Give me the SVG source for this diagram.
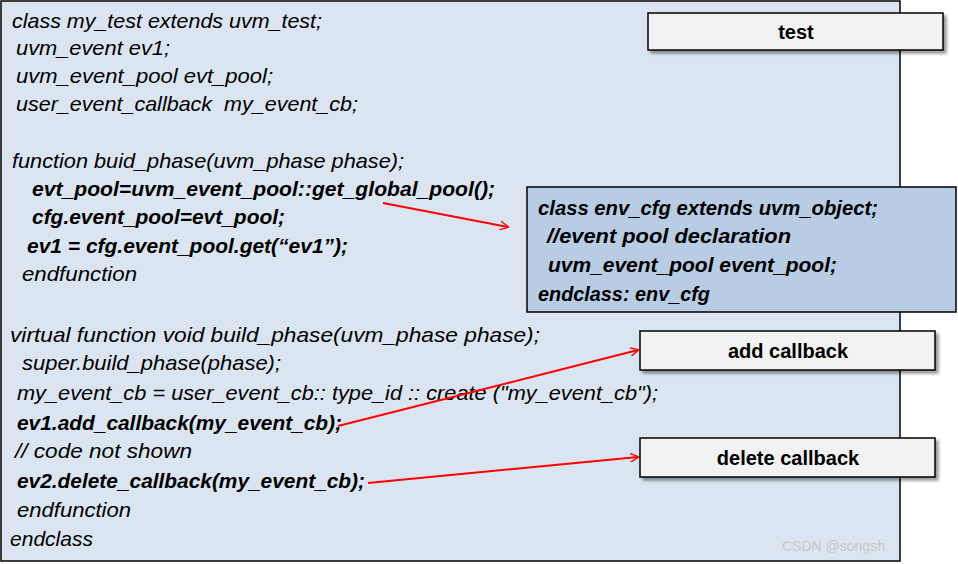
<svg xmlns="http://www.w3.org/2000/svg" width="958" height="564" viewBox="0 0 958 564">
<defs>
<marker id="ah" viewBox="0 0 10 10" refX="9" refY="5" markerWidth="9" markerHeight="9" markerUnits="userSpaceOnUse" orient="auto"><path d="M0,0 L10,5 L0,10" fill="none" stroke="#f00" stroke-width="1.5"/></marker>
<filter id="sh" x="-5%" y="-20%" width="115%" height="160%"><feDropShadow dx="3" dy="3" stdDeviation="1.5" flood-color="#000" flood-opacity="0.4"/></filter>
</defs>
<style>
text{font-family:"Liberation Sans",Arial,sans-serif;font-style:italic;font-size:21px;fill:#000}
.b{font-weight:bold}
.lbl{font-style:normal;font-weight:bold;font-size:20px;text-anchor:middle}
.btn{fill:#f2f2f2;stroke:#000;stroke-width:1.5}
.arr{stroke:#f00;stroke-width:2;fill:none;marker-end:url(#ah)}
</style>
<rect width="958" height="564" fill="#fff"/>
<g id="main">
<rect x="1" y="1" width="899" height="560" fill="#dbe5f1" stroke="#000" stroke-width="1.5"/>
<text x="12" y="28" textLength="310" lengthAdjust="spacingAndGlyphs">class my_test extends uvm_test;</text>
<text x="16" y="55" textLength="154" lengthAdjust="spacingAndGlyphs">uvm_event ev1;</text>
<text x="16" y="83" textLength="257" lengthAdjust="spacingAndGlyphs">uvm_event_pool evt_pool;</text>
<text x="16" y="111" textLength="342" lengthAdjust="spacingAndGlyphs" xml:space="preserve">user_event_callback  my_event_cb;</text>
<text x="12" y="168" textLength="392" lengthAdjust="spacingAndGlyphs">function buid_phase(uvm_phase phase);</text>
<text class="b" x="32" y="196" textLength="463" lengthAdjust="spacingAndGlyphs">evt_pool=uvm_event_pool::get_global_pool();</text>
<text class="b" x="32" y="224" textLength="253" lengthAdjust="spacingAndGlyphs">cfg.event_pool=evt_pool;</text>
<text class="b" x="27" y="253" textLength="321" lengthAdjust="spacingAndGlyphs">ev1 = cfg.event_pool.get(“ev1”);</text>
<text x="22" y="281" textLength="115" lengthAdjust="spacingAndGlyphs">endfunction</text>
<text x="10" y="342" textLength="530" lengthAdjust="spacingAndGlyphs">virtual function void build_phase(uvm_phase phase);</text>
<text x="22" y="370" textLength="259" lengthAdjust="spacingAndGlyphs">super.build_phase(phase);</text>
<text x="17" y="400" textLength="641" lengthAdjust="spacingAndGlyphs">my_event_cb = user_event_cb:: type_id :: create ("my_event_cb");</text>
<text class="b" x="17" y="430" textLength="325" lengthAdjust="spacingAndGlyphs">ev1.add_callback(my_event_cb);</text>
<text x="15" y="458" textLength="177" lengthAdjust="spacingAndGlyphs">// code not shown</text>
<text class="b" x="17" y="488" textLength="348" lengthAdjust="spacingAndGlyphs">ev2.delete_callback(my_event_cb);</text>
<text x="17" y="517" textLength="114" lengthAdjust="spacingAndGlyphs">endfunction</text>
<text x="10" y="546" textLength="83" lengthAdjust="spacingAndGlyphs">endclass</text>
</g>
<g id="test"><rect class="btn" x="648" y="13" width="295" height="37" filter="url(#sh)"/><text class="lbl" x="796" y="39">test</text></g>
<g id="env_cfg">
<rect x="527" y="187" width="429" height="125" fill="#b8cce4" stroke="#000" stroke-width="1.5"/>
<text class="b" x="538" y="215" textLength="340" lengthAdjust="spacingAndGlyphs">class env_cfg extends uvm_object;</text>
<text class="b" x="547" y="243" textLength="244" lengthAdjust="spacingAndGlyphs">//event pool declaration</text>
<text class="b" x="548" y="272" textLength="289" lengthAdjust="spacingAndGlyphs">uvm_event_pool event_pool;</text>
<text class="b" x="538" y="301" textLength="172" lengthAdjust="spacingAndGlyphs">endclass: env_cfg</text>
</g>
<g id="add"><rect class="btn" x="640" y="331" width="295" height="39" filter="url(#sh)"/><text class="lbl" x="788" y="358">add callback</text></g>
<g id="del"><rect class="btn" x="640" y="438" width="295" height="39" filter="url(#sh)"/><text class="lbl" x="788" y="465">delete callback</text></g>
<g id="connectors">
<line class="arr" x1="383" y1="203" x2="508" y2="227"/>
<line class="arr" x1="338" y1="426" x2="638" y2="350"/>
<line class="arr" x1="368" y1="483" x2="638" y2="457"/>
</g>
<text x="782" y="551" style="font-style:normal;font-size:14px;fill:#c8c8c8">CSDN @songsh</text>
</svg>
